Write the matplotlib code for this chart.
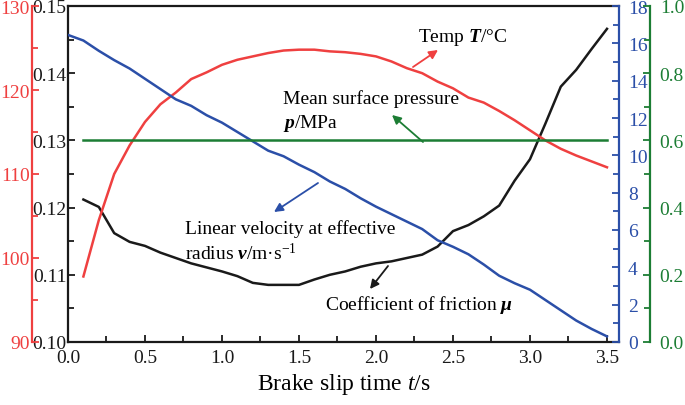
import matplotlib
matplotlib.use("Agg")
import matplotlib.pyplot as plt
from matplotlib.ticker import MultipleLocator, FormatStrFormatter

plt.rcParams['font.family'] = ['Liberation Serif', 'DejaVu Serif']
plt.rcParams['mathtext.fontset'] = 'custom'
plt.rcParams['mathtext.rm'] = 'Liberation Serif'
plt.rcParams['mathtext.it'] = 'Liberation Serif:italic'
plt.rcParams['mathtext.bf'] = 'Liberation Serif:bold'
plt.rcParams['mathtext.bfit'] = 'Liberation Serif:bold:italic'

# ---- data ----
time_t = [0.1, 0.2, 0.3, 0.4, 0.5, 0.6, 0.7, 0.8, 0.9, 1.0, 1.1, 1.2, 1.3, 1.4,
          1.5, 1.6, 1.7, 1.8, 1.9, 2.0, 2.1, 2.2, 2.3, 2.4, 2.5, 2.6, 2.7, 2.8,
          2.9, 3.0, 3.1, 3.2, 3.3, 3.4, 3.5]
temperature = [97.8, 104.5, 110.0, 113.4, 116.2, 118.3, 119.7, 121.3, 122.1, 123.0,
               123.6, 124.0, 124.4, 124.7, 124.8, 124.8, 124.6, 124.5, 124.3, 124.0,
               123.4, 122.6, 122.0, 121.0, 120.2, 119.1, 118.5, 117.5, 116.4, 115.2,
               114.0, 113.0, 112.2, 111.5, 110.8]
friction = [0.1212, 0.1201, 0.1162, 0.1149, 0.1143, 0.1133, 0.1125, 0.1117, 0.1111,
            0.1105, 0.1098, 0.1088, 0.1085, 0.1085, 0.1085, 0.1093, 0.1100, 0.1105,
            0.1112, 0.1117, 0.1120, 0.1125, 0.1130, 0.1142, 0.1165, 0.1174, 0.1187,
            0.1203, 0.1240, 0.1272, 0.1325, 0.1380, 0.1405, 0.1436, 0.1466]
pressure = [0.6] * len(time_t)

time_v = [0.0] + time_t
velocity = [16.45, 16.15, 15.6, 15.1, 14.65, 14.1, 13.55, 13.0, 12.65, 12.15, 11.75,
            11.25, 10.75, 10.25, 9.95, 9.5, 9.1, 8.6, 8.2, 7.7, 7.25, 6.85, 6.45,
            6.05, 5.45, 5.1, 4.7, 4.15, 3.55, 3.15, 2.8, 2.25, 1.7, 1.15, 0.7, 0.3]

x_ticks = [0.0, 0.5, 1.0, 1.5, 2.0, 2.5, 3.0, 3.5]

RED = '#ef4040'
BLUE = '#2b4fa8'
GREEN = '#1c7d34'
BLACK = '#1a1a1a'

fig = plt.figure(figsize=(6.85, 4.06), dpi=100)
L, R, B, T = 68, 619, 343, 7
W, H = 685, 406
ax = fig.add_axes([L / W, (H - B) / H, (R - L) / W, (B - T) / H])
ax_T = ax.twinx()
ax_v = ax.twinx()
ax_p = ax.twinx()

lw = 1.8
ax.plot(time_t, friction, color=BLACK, lw=lw, zorder=3)
ax_T.plot(time_t, temperature, color=RED, lw=lw)
ax_v.plot(time_v, velocity, color=BLUE, lw=lw)
ax_p.plot(time_t, pressure, color=GREEN, lw=lw)

ax.set_xlim(0, 3.578)
ax.set_ylim(0.10, 0.15)
ax_T.set_ylim(90, 130)
ax_v.set_ylim(0, 18)
ax_p.set_ylim(0.0, 1.0)

fs = 14
spw = 1.6
# host axis (friction)
ax.set_xticks(x_ticks)
ax.xaxis.set_major_formatter(FormatStrFormatter('%.1f'))
ax.xaxis.set_minor_locator(MultipleLocator(0.25))
ax.yaxis.set_major_locator(MultipleLocator(0.01))
ax.yaxis.set_minor_locator(MultipleLocator(0.005))
ax.yaxis.set_major_formatter(FormatStrFormatter('%.2f'))
ax.tick_params(axis='both', which='both', direction='in', labelsize=fs, width=1.3, colors=BLACK)
ax.tick_params(axis='both', which='major', length=5)
ax.tick_params(axis='both', which='minor', length=4)
ax.tick_params(axis='y', pad=1)
ax.tick_params(axis='x', pad=5)
for s in ['left', 'bottom', 'top']:
    ax.spines[s].set_linewidth(spw)
    ax.spines[s].set_color(BLACK)
ax.spines['right'].set_visible(False)
ax.set_xlabel('Brake slip time $\\it{t}$/s', fontsize=17, labelpad=4)

# temperature axis (outer left)
ax_T.spines['left'].set_position(('axes', (32 - L) / (R - L)))
ax_T.spines['left'].set_visible(True)
ax_T.yaxis.set_label_position('left')
ax_T.yaxis.set_ticks_position('left')
for s in ['right', 'top', 'bottom']:
    ax_T.spines[s].set_visible(False)
ax_T.spines['left'].set_color(RED)
ax_T.spines['left'].set_linewidth(spw)
ax_T.yaxis.set_major_locator(MultipleLocator(10))
ax_T.yaxis.set_minor_locator(MultipleLocator(5))
ax_T.tick_params(axis='y', which='both', direction='in', colors=RED, labelsize=fs, width=1.3, pad=1.5)
ax_T.tick_params(axis='y', which='major', length=5)
ax_T.tick_params(axis='y', which='minor', length=4)

# velocity axis (inner right)
for s in ['left', 'top', 'bottom']:
    ax_v.spines[s].set_visible(False)
ax_v.spines['right'].set_color(BLUE)
ax_v.spines['right'].set_linewidth(spw)
ax_v.yaxis.set_major_locator(MultipleLocator(2))
ax_v.yaxis.set_minor_locator(MultipleLocator(1))
ax_v.tick_params(axis='y', which='both', direction='in', colors=BLUE, labelsize=fs, width=1.3, pad=6.5)
ax_v.tick_params(axis='y', which='major', length=5)
ax_v.tick_params(axis='y', which='minor', length=4)

# pressure axis (outer right)
ax_p.spines['right'].set_position(('axes', (650 - L) / (R - L)))
for s in ['left', 'top', 'bottom']:
    ax_p.spines[s].set_visible(False)
ax_p.spines['right'].set_color(GREEN)
ax_p.spines['right'].set_linewidth(spw)
ax_p.yaxis.set_major_locator(MultipleLocator(0.2))
ax_p.yaxis.set_minor_locator(MultipleLocator(0.1))
ax_p.yaxis.set_major_formatter(FormatStrFormatter('%.1f'))
ax_p.tick_params(axis='y', which='both', direction='in', colors=GREEN, labelsize=fs, width=1.3, pad=7)
ax_p.tick_params(axis='y', which='major', length=5)
ax_p.tick_params(axis='y', which='minor', length=4)


def fx(px):
    return (px - L) / (R - L)


def fy(py):
    return (B - py) / (B - T)


tfs = 14
arrow_kw = dict(arrowstyle='-|>', lw=1.3, mutation_scale=13, shrinkA=0, shrinkB=0)

ax.text(fx(418), fy(38), 'Temp $\\mathbfit{T}$/°C', transform=ax.transAxes,
        fontsize=tfs, va='center', ha='left')
ax.annotate('', xy=(fx(438), fy(51)), xytext=(fx(413), fy(68)),
            xycoords='axes fraction', textcoords='axes fraction',
            arrowprops=dict(color=RED, **arrow_kw))

ax.text(fx(283), fy(99), 'Mean surface pressure', transform=ax.transAxes,
        fontsize=tfs, va='center', ha='left')
ax.text(fx(283), fy(123), '$\\mathbfit{p}$/MPa', transform=ax.transAxes,
        fontsize=tfs, va='center', ha='left')
ax.annotate('', xy=(fx(392), fy(116)), xytext=(fx(423), fy(143)),
            xycoords='axes fraction', textcoords='axes fraction',
            arrowprops=dict(color=GREEN, **arrow_kw))

ax.text(fx(185), fy(229), 'Linear velocity at effective', transform=ax.transAxes,
        fontsize=tfs, va='center', ha='left')
ax.text(fx(185), fy(254), 'radius $\\mathbfit{v}$/m·s$^{\\mathregular{-1}}$', transform=ax.transAxes,
        fontsize=tfs, va='center', ha='left')
ax.annotate('', xy=(fx(274), fy(213)), xytext=(fx(318), fy(184)),
            xycoords='axes fraction', textcoords='axes fraction',
            arrowprops=dict(color=BLUE, **arrow_kw))

ax.text(fx(325), fy(305), 'Coefficient of friction $\\mathbfit{\\mu}$', transform=ax.transAxes,
        fontsize=tfs, va='center', ha='left')
ax.annotate('', xy=(fx(370), fy(290)), xytext=(fx(388), fy(267)),
            xycoords='axes fraction', textcoords='axes fraction',
            arrowprops=dict(color=BLACK, **arrow_kw))

fig.savefig('out.png', dpi=100)
